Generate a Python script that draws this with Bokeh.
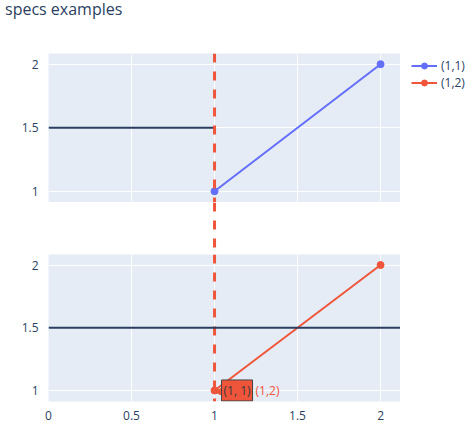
from bokeh.plotting import figure
from bokeh.layouts import column, row
from bokeh.models import Range1d, Span, Legend, LegendItem, FixedTicker, Div
from bokeh.core.properties import value
from bokeh.embed import file_html
from bokeh.resources import INLINE

# ---------------- data ----------------
title_text = "specs examples"
trace1_name = "(1,1)"
trace1_x = [1, 2]
trace1_y = [1, 2]
trace2_name = "(1,2)"
trace2_x = [1, 2]
trace2_y = [1, 2]
hline_y = 1.5
top_hline_x = [0, 1]
vline_x = 1
hover_x = [1]
hover_y = [1]
hover_text = ["(1, 1)"]
x_ticks = [0, 0.5, 1, 1.5, 2]
x_tick_labels = ["0", "0.5", "1", "1.5", "2"]
y_ticks = [1, 1.5, 2]
y_tick_labels = ["1", "1.5", "2"]
x_lim = (0, 2.12)
y_lim = (0.912, 2.084)

# ---------------- style ----------------
FONT = "Open Sans"
BG = "#E5ECF6"
TXT = "#2a3f5f"
BLUE = "#636EFA"
RED = "#EF553B"
NAVY = "#2a3f5f"
LEFT = 48
PLOT_W = 400
DASH = "9 9"
TITLE_H = 22

shared_x = Range1d(*x_lim)


def make_fig(height, top, bottom):
    p = figure(width=PLOT_W, height=height, x_range=shared_x,
               y_range=Range1d(*y_lim), output_backend="svg",
               toolbar_location=None, min_border_left=LEFT,
               min_border_right=0, min_border_top=top,
               min_border_bottom=bottom, background_fill_color=BG,
               border_fill_color="white", outline_line_color=None)
    for ax in (p.xaxis[0], p.yaxis[0]):
        ax.axis_line_color = None
        ax.major_tick_line_color = None
        ax.minor_tick_line_color = None
        ax.major_label_text_font = FONT
        ax.major_label_text_font_size = "12px"
        ax.major_label_text_color = TXT
        ax.major_label_standoff = 4
    p.xaxis.major_label_standoff = 3
    p.xaxis.ticker = FixedTicker(ticks=x_ticks)
    p.xaxis.major_label_overrides = {float(k): v for k, v in zip(x_ticks, x_tick_labels)}
    p.yaxis.ticker = FixedTicker(ticks=y_ticks)
    p.yaxis.major_label_overrides = {float(k): v for k, v in zip(y_ticks, y_tick_labels)}
    p.xgrid.grid_line_color = "white"
    p.ygrid.grid_line_color = "white"
    p.add_layout(Span(location=vline_x, dimension="height", line_color=RED,
                      line_width=3, line_dash=DASH))
    return p


# ---------------- title ----------------
title = Div(text=title_text, width=200, height=TITLE_H, margin=(0, 0, 0, 5),
            styles={"font-family": FONT, "font-size": "16px", "color": TXT,
                    "line-height": "18px", "padding": "0", "overflow": "visible"})

# ---------------- top subplot ----------------
p1 = make_fig(202 - TITLE_H, 53 - TITLE_H, 0)
p1.xaxis.visible = False
p1.line(x=top_hline_x, y=[hline_y, hline_y], line_color=NAVY, line_width=2)
p1.line(x=trace1_x, y=trace1_y, line_color=BLUE, line_width=2)
p1.scatter(x=trace1_x, y=trace1_y, size=7, fill_color=BLUE, line_color=BLUE)

# ---------------- legend panel (right of the top subplot) ----------------
lf = figure(width=70, height=202 - TITLE_H, x_range=Range1d(0, 1), y_range=Range1d(0, 1),
            output_backend="svg", toolbar_location=None, min_border=0,
            outline_line_color=None, background_fill_color="white",
            border_fill_color="white")
lf.axis.visible = False
lf.grid.visible = False
k1l = lf.line(x=trace1_x, y=trace1_y, line_color=BLUE, line_width=2, visible=False)
k1s = lf.scatter(x=trace1_x, y=trace1_y, size=6, fill_color=BLUE, line_color=BLUE, visible=False)
k2l = lf.line(x=trace2_x, y=trace2_y, line_color=RED, line_width=2, visible=False)
k2s = lf.scatter(x=trace2_x, y=trace2_y, size=6, fill_color=RED, line_color=RED, visible=False)
legend = Legend(items=[LegendItem(label=trace1_name, renderers=[k1l, k1s]),
                       LegendItem(label=trace2_name, renderers=[k2l, k2s])],
                location=(11, 111), border_line_color=None,
                background_fill_alpha=0, inactive_fill_alpha=0,
                label_text_font=FONT,
                label_text_font_size="12px", label_text_color=TXT,
                glyph_width=26, glyph_height=15, label_standoff=4,
                spacing=0, padding=0, margin=0)
lf.add_layout(legend)

# ---------------- gap between the subplots (dashed shape continues) ----------------
gap = figure(width=PLOT_W, height=52, x_range=shared_x, y_range=Range1d(0, 1),
             output_backend="svg", toolbar_location=None, min_border_left=LEFT,
             min_border_right=0, min_border_top=0, min_border_bottom=0,
             outline_line_color=None, background_fill_color="white",
             border_fill_color="white")
gap.axis.visible = False
gap.grid.visible = False
gap.add_layout(Span(location=vline_x, dimension="height", line_color=RED,
                    line_width=3, line_dash=DASH))

# ---------------- bottom subplot ----------------
p2 = make_fig(168, 0, 20)
p2.add_layout(Span(location=hline_y, dimension="width", line_color=NAVY, line_width=2))
p2.line(x=trace2_x, y=trace2_y, line_color=RED, line_width=2)
p2.scatter(x=trace2_x, y=trace2_y, size=7, fill_color=RED, line_color=RED)

# hover label at (1, 1)
p2.text(x=hover_x, y=hover_y, text=["◀"], x_offset=-1, text_align="left",
        text_baseline="middle", text_color=RED, text_font=value("DejaVu Sans"),
        text_font_size="13px")
p2.text(x=hover_x, y=hover_y, text=hover_text, x_offset=7, text_align="left",
        text_baseline="middle", text_color="#3a3a3a", text_font=value(FONT),
        text_font_size="12px", background_fill_color=RED,
        border_line_color="#444444", border_line_width=1, padding=2)
p2.text(x=hover_x, y=hover_y, text=[trace2_name], x_offset=41, text_align="left",
        text_baseline="middle", text_color=RED, text_font=value(FONT),
        text_font_size="12px")

layout = column(title, row(p1, lf, spacing=0), gap, p2, spacing=0)
open("out.html", "w").write(file_html(layout, INLINE))
